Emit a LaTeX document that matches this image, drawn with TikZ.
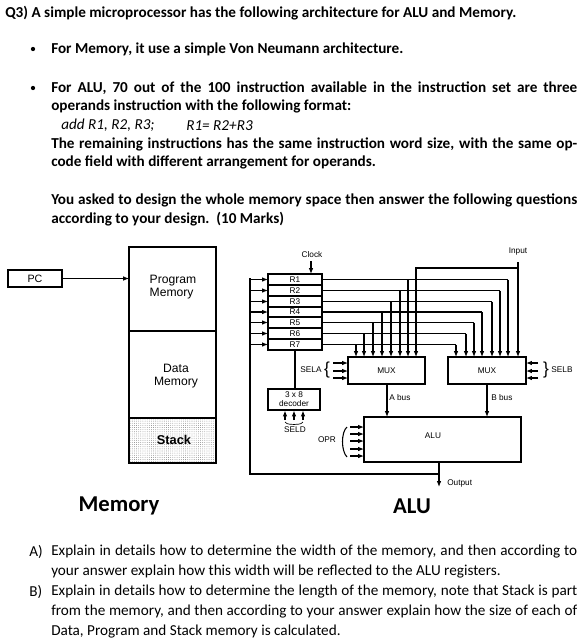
\documentclass[tikz,border=0pt]{standalone}
\usepackage{fontspec}
\setmainfont{Carlito}
\newfontfamily\arialf{Liberation Sans}
\usetikzlibrary{fit,arrows.meta,patterns.meta,decorations.pathreplacing}
\newcommand{\justline}[1]{\makebox[394.5pt][s]{#1}}
\tikzset{
  x=0.75pt,y=-0.75pt,
  txt/.style={anchor=west,inner sep=0pt,font=\fontsize{11.4}{12}\selectfont\bfseries},
  reg/.style={anchor=west,inner sep=0pt,font=\fontsize{11.4}{12}\selectfont},
  ital/.style={anchor=west,inner sep=0pt,font=\fontsize{11.4}{12}\selectfont\itshape},
  big/.style={inner sep=0pt,font=\fontsize{17}{18}\selectfont\bfseries},
  box/.style={draw,line width=1pt,inner sep=0pt,outer sep=0pt},
  mem/.style={draw,line width=1.4pt,inner sep=0pt,outer sep=0pt},
  lab/.style={inner sep=0pt,align=center,font=\arialf\fontsize{6.2}{6.9}\selectfont},
  memlab/.style={inner sep=0pt,align=left,font=\arialf\fontsize{9.1}{10}\selectfont},
  wire/.style={line width=0.85pt},
  arr/.style={line width=0.85pt,-{Latex[length=4.4pt,width=3.4pt]}},
  thinarr/.style={line width=0.6pt,-{Latex[length=4.4pt,width=3.4pt]}},
  bul/.style={circle,fill,inner sep=0pt,minimum size=3.2pt},
}
\begin{document}
\begin{tikzpicture}
\useasboundingbox (0,0) rectangle (584,643);
% question text
\node[txt] (t0) at (5,13.5) {Q3) A simple microprocessor has the following architecture for ALU and Memory.};
\node[bul] (b1) at (33,49) {};
\node[txt] (t1) at (51,49.5) {For Memory, it use a simple Von Neumann architecture.};
\node[bul] (b2) at (33,88) {};
\node[txt] (t2) at (51,88.5) {\justline{For ALU, 70 out of the 100 instruction available in the instruction set are three}};
\node[txt] (t3) at (51,106.5) {operands instruction with the following format:};
\node[ital] (t4) at (61,125.5) {add R1, R2, R3;};
\node[ital] (t4b) at (186,125.5) {R1= R2+R3};
\node[txt] (t5) at (51,144.5) {\justline{The remaining instructions has the same instruction word size, with the same op-}};
\node[txt] (t6) at (51,162.5) {code field with different arrangement for operands.};
\node[txt] (t7) at (51,200.5) {\justline{You asked to design the whole memory space then answer the following questions}};
\node[txt] (t8) at (51,219.5) {according to your design.\ \ (10 Marks)};
% memory
\node[mem,fit={(8,270)(62,287)}] (pc) {};
\node[lab,font=\arialf\fontsize{8}{9}\selectfont] at (pc.center) {PC};
\node[mem,fit={(129,247)(216,331)}] (prog) {};
\node[mem,fit={(129,331)(216,418)}] (data) {};
\node[mem,fit={(129,418)(216,463)},pattern={Dots[radius=0.3pt,distance=1.6pt]},pattern color=black!55] (stack) {};
\node[memlab] at (173,287) {Program\\Memory};
\node[memlab,align=center] at (176,376) {Data\\Memory};
\node[memlab,font=\arialf\bfseries\fontsize{9.6}{10}\selectfont] at (174,440) {Stack};
\draw[thinarr] (pc.east) -- (prog.west |- pc.east);
\node[big] (memt) at (119,506) {Memory};
\node[big] (alut) at (412,506) {ALU};
% registers
\foreach \i/\a/\b in {1/274/285,2/285/296,3/296/307,4/307/317,5/317/328,6/328/339,7/339/350}{
  \node[box,fit={(268,\a)(322,\b)}] (R\i) {};
  \node[lab] at (R\i.center) {R\i};
}
\coordinate (clk) at (311,261);
\node[lab] (clkl) at (312,255) {Clock};
\draw[arr] (clk) -- (clk |- R1.north);
% boxes
\node[box,fit={(348,357)(425,384)}] (muxa) {};
\node[lab] at (muxa.center) {MUX};
\node[box,fit={(448,357)(526,384)}] (muxb) {};
\node[lab] at (muxb.center) {MUX};
\node[box,fit={(268,389)(320,410)}] (dec) {};
\node[lab] at (dec.center) {3 x 8\\decoder};
\node[box,fit={(364,417)(521,462)}] (alu) {};
\node[lab] at (433,436) {ALU};
% register outputs to both muxes
\foreach \i/\xa/\xb in {1/408/508,2/400/500,3/391/492,4/382/482,5/373/474,6/364/466,7/356/456}{
  \coordinate (bb\i) at (\xb,357);
  \coordinate (aa\i) at (\xa,357);
  \draw[wire] (R\i.east) -- (R\i.east -| bb\i);
  \draw[arr] (R\i.east -| bb\i) -- (bb\i);
  \draw[arr] (R\i.east -| aa\i) -- (aa\i);
}
% input
\node[lab] (inl) at (518,252) {Input};
\coordinate (in0) at (518,262);
\coordinate (in1) at (518,268);
\coordinate (ina) at (416,268);
\draw[arr] (in0) -- (518,357);
\draw[arr] (in1) -- (ina) -- (416,357);
% bus feedback
\coordinate (fb) at (250,278);
\coordinate (fbb) at (250,474);
\coordinate (outj) at (439,474);
\coordinate (outc) at (439,487);
\draw[wire,line width=1pt] (fb) -- (fbb) -- (outj);
\draw[arr] (alu.south -| outj) -- (outc);
\node[lab,anchor=west] (outl) at (447,483) {Output};
\foreach \i in {1,...,7}{
  \draw[arr] (R\i.west -| fb) -- (R\i.west);
}
% decoder
\coordinate (decx) at (295,380);
\draw[wire] (R7.south -| decx) -- (dec.north -| decx);
\foreach \x in {285,294,303}{
  \draw[arr] (\x,420) -- (\x,410.5);
}
\draw[line width=0.5pt] (285,422) .. controls (287,425) and (292,424) .. (294,424.5) .. controls (296,424) and (301,425) .. (303,422);
\node[lab] (seld) at (295,430) {SELD};
% selects
\node[lab] (sela) at (311,370) {SELA};
\node[lab,font=\arialf\fontsize{13}{14}\selectfont] (selabr) at (327,370) {\{};
\foreach \y in {363,371,378}{
  \draw[arr] (333,\y) -- (348,\y);
  \draw[arr] (538,\y) -- (526,\y);
}
\node[lab,font=\arialf\fontsize{13}{14}\selectfont] (selbbr) at (546,370) {\}};
\node[lab] (selb) at (562,370) {SELB};
% buses
\draw[arr] (387,384) -- (387,417);
\node[lab,anchor=west] (ab) at (389,398) {A bus};
\draw[arr] (487,384) -- (487,417);
\node[lab,anchor=west] (bb) at (491,398) {B bus};
% opr
\node[lab] (opr) at (327,440) {OPR};
\foreach \y in {427,434,441,449,456}{
  \draw[arr] (350,\y) -- (364,\y);
}
\draw[line width=0.8pt] (347,427) .. controls (341,432) and (341,451) .. (347,457);
% answers
\node[reg] (a1) at (29,551.5) {A)};
\node[reg] (a2) at (51,551.5) {\justline{Explain in details how to determine the width of the memory, and then according to}};
\node[reg] (a3) at (51,571.5) {your answer explain how this width will be reflected to the ALU registers.};
\node[reg] (b1x) at (29,591.5) {B)};
\node[reg] (b2x) at (51,591.5) {\justline{Explain in details how to determine the length of the memory, note that Stack is part}};
\node[reg] (b3x) at (51,611.5) {\justline{from the memory, and then according to your answer explain how the size of each of}};
\node[reg] (b4x) at (51,632) {Data, Program and Stack memory is calculated.};
\end{tikzpicture}
\end{document}
